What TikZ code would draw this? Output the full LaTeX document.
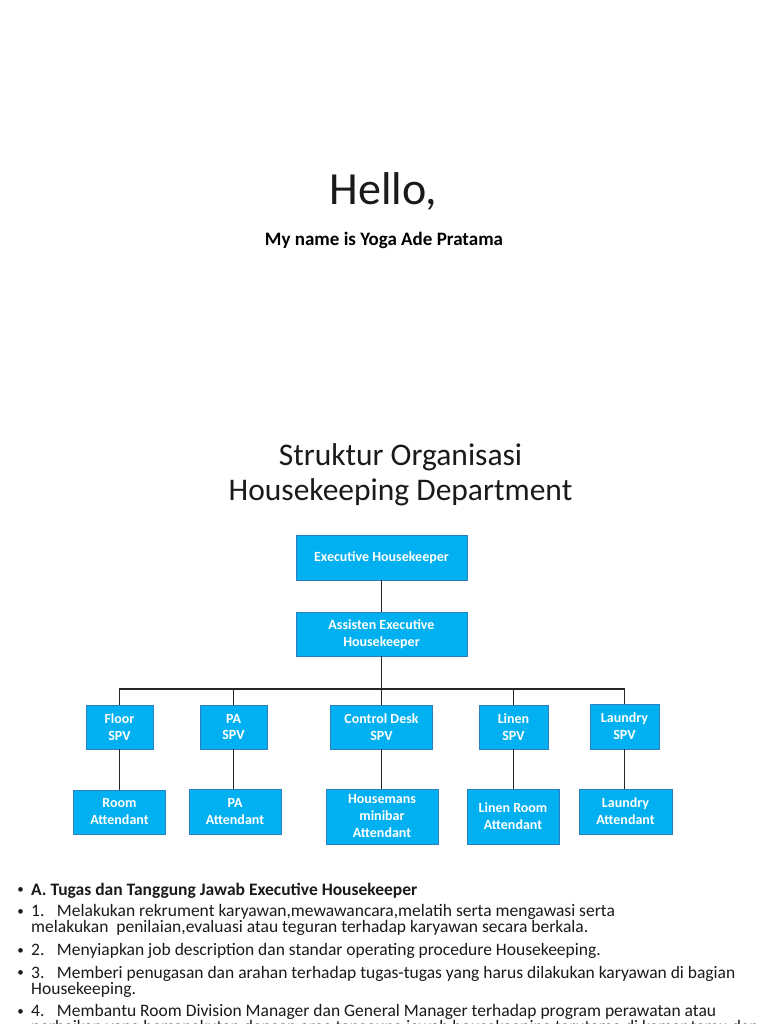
\documentclass[tikz,border=0pt]{standalone}
\usepackage{fontspec}
\setmainfont{Carlito}
\definecolor{boxblue}{HTML}{00B0F0}
\definecolor{boxedge}{HTML}{2E7FBF}
\definecolor{linec}{HTML}{262626}
\definecolor{txt}{HTML}{1A1A1A}
\begin{document}
\begin{tikzpicture}[x=1pt,y=-1pt,
  orgbox/.style={draw=boxedge, line width=0.9pt, fill=boxblue, text=white,
    font=\fontsize{14}{17}\selectfont\bfseries, align=center, inner sep=0pt},
  conn/.style={draw=linec, line width=1.1pt},
  body/.style={anchor=base west, inner sep=0pt, text=txt, font=\fontsize{17.5}{15.5}\selectfont},
  bul/.style={anchor=base, inner sep=0pt, text=txt, font=\fontsize{13}{15}\selectfont}]
\useasboundingbox (0,0) rectangle (768,1024);
\clip (0,0) rectangle (768,1024);
\fill[white] (0,0) rectangle (768,1024);

% headings
\node[anchor=base, inner sep=0pt, text=txt, font=\fontsize{46}{50}\selectfont] (hello) at (383.5,205) {Hello,};
\node[anchor=base, inner sep=0pt, text=black, font=\fontsize{19}{21}\selectfont\bfseries] (name) at (384,245) {My name is Yoga Ade Pratama};
\node[anchor=base, inner sep=0pt, text=txt, font=\fontsize{31.5}{34}\selectfont] (t1) at (400.5,465) {Struktur Organisasi};
\node[anchor=base, inner sep=0pt, text=txt, font=\fontsize{31.5}{34}\selectfont] (t2) at (400.5,500) {Housekeeping Department};

% org chart boxes
\node[orgbox, minimum width=171pt, minimum height=45pt] (exec) at (381.5,557.5) {Executive Housekeeper};
\node[orgbox, minimum width=171pt, minimum height=44pt] (asst) at (381.5,634) {Assisten Executive\\Housekeeper};
\node[orgbox, minimum width=67pt, minimum height=44pt] (floor) at (119.5,727) {Floor\\SPV};
\node[orgbox, minimum width=67pt, minimum height=44pt] (pa) at (233.5,727) {PA\\SPV};
\node[orgbox, minimum width=102pt, minimum height=44pt] (ctrl) at (381.5,727) {Control Desk\\SPV};
\node[orgbox, minimum width=69pt, minimum height=44pt] (linen) at (513.5,727) {Linen\\SPV};
\node[orgbox, minimum width=69pt, minimum height=45pt] (laundry) at (624.5,726.5) {Laundry\\SPV};
\node[orgbox, minimum width=92pt, minimum height=44pt] (room) at (119.5,812) {Room\\Attendant};
\node[orgbox, minimum width=92pt, minimum height=45pt] (paatt) at (235,811.5) {PA\\Attendant};
\node[orgbox, minimum width=112pt, minimum height=55pt] (house) at (382,816.5) {Housemans\\minibar\\Attendant};
\node[orgbox, minimum width=92pt, minimum height=55pt] (linenroom) at (513,816.5) {Linen Room\\Attendant};
\node[orgbox, minimum width=93pt, minimum height=45pt] (laundryatt) at (625.5,811.5) {Laundry\\Attendant};

\coordinate (bus) at (381.5,689);
\draw[conn] (exec.south) -- (asst.north);
\draw[conn] (asst.south) -- (ctrl.north);
\draw[conn] (floor.north) |- (bus) -| (laundry.north);
\draw[conn] (pa.north) -- (pa.north |- bus);
\draw[conn] (linen.north) -- (linen.north |- bus);
\draw[conn] (floor.south) -- (room.north);
\draw[conn] (pa.south) -- (pa.south |- paatt.north);
\draw[conn] (ctrl.south) -- (ctrl.south |- house.north);
\draw[conn] (linen.south) -- (linen.south |- linenroom.north);
\draw[conn] (laundry.south) -- (laundry.south |- laundryatt.north);

% bullet list
\node[bul] (b0) at (20.5,893.5) {•};
\node[body, font=\fontsize{17.5}{15.5}\selectfont\bfseries] (l0) at (31,895) {A. Tugas dan Tanggung Jawab Executive Housekeeper};
\node[bul] (b1) at (20.5,915.2) {•};
\node[body] (l1) at (31,916.7) {1.\hspace{12.5pt}Melakukan rekrument karyawan,mewawancara,melatih serta mengawasi serta};
\node[body] (l1b) at (31,932.5) {melakukan\ \ penilaian,evaluasi atau teguran terhadap karyawan secara berkala.};
\node[bul] (b2) at (20.5,954.2) {•};
\node[body] (l2) at (31,955.7) {2.\hspace{12.5pt}Menyiapkan job description dan standar operating procedure Housekeeping.};
\node[bul] (b3) at (20.5,976.5) {•};
\node[body] (l3) at (31,978) {3.\hspace{12.5pt}Memberi penugasan dan arahan terhadap tugas-tugas yang harus dilakukan karyawan di bagian};
\node[body] (l3b) at (31,994.5) {Housekeeping.};
\node[bul] (b4) at (20.5,1015.2) {•};
\node[body] (l4) at (31,1016.7) {4.\hspace{12.5pt}Membantu Room Division Manager dan General Manager terhadap program perawatan atau};
\node[body] (l4b) at (31,1032.5) {perbaikan yang bersangkutan dengan area tanggung jawab housekeeping terutama di kamar tamu dan};
\end{tikzpicture}
\end{document}
